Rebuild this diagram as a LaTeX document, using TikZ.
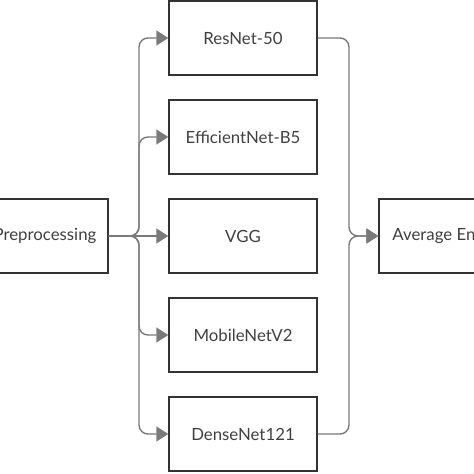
\documentclass[tikz,border=0pt]{standalone}
\usepackage{fontspec}
\setmainfont{Lato}
\usetikzlibrary{arrows.meta}

\begin{document}
\begin{tikzpicture}[x=1pt,y=1pt,>={Triangle[length=12pt,width=15pt]},
    box/.style={draw=black!80,line width=1.4pt,minimum width=148pt,minimum height=74pt,
      inner sep=0pt,text=black!75,font=\fontsize{16.8}{20}\selectfont},
    link/.style={->,draw=black!52,line width=1.4pt,rounded corners=9pt}]
  \useasboundingbox (0,0) rectangle (474,474);
  \node[box,minimum width=126pt] (prep) at (45, 238) {Preprocessing};
  \node[box] (res) at (243, 436) {ResNet-50};
  \node[box] (eff) at (243, 337) {EfficientNet-B5};
  \node[box] (vgg) at (243, 238) {VGG};
  \node[box] (mob) at (243, 139) {MobileNetV2};
  \node[box] (den) at (243, 40)  {DenseNet121};
  \node[box,minimum width=162pt] (avg) at (460, 238) {Average Ensemble};
  \coordinate (split) at (139, 238); % fan out
  \coordinate (join)  at (349, 238); % fan in
  \draw[link] (prep.east) -- (split) |- (res.west);
  \draw[link] (prep.east) -- (split) |- (eff.west);
  \draw[link] (prep.east) -- (vgg.west);
  \draw[link] (prep.east) -- (split) |- (mob.west);
  \draw[link] (prep.east) -- (split) |- (den.west);
  \draw[link] (res.east) -| (join) -- (avg.west);
  \draw[link] (den.east) -| (join) -- (avg.west);
\end{tikzpicture}
\end{document}
